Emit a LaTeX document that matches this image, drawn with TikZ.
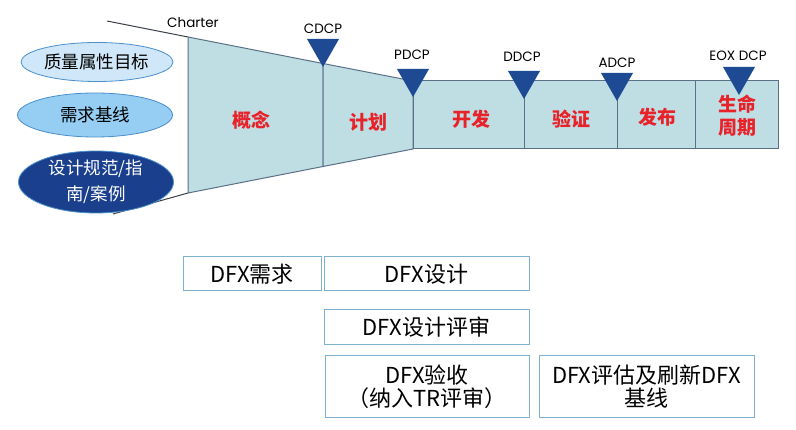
\documentclass[tikz,border=0pt]{standalone}
\usepackage{fontspec}
\setmainfont{Noto Sans CJK SC}
\newfontfamily\geo{Poppins}
\usetikzlibrary{shapes.geometric}
\definecolor{phasefill}{HTML}{BFDEE4}
\definecolor{phaseedge}{HTML}{5B6F86}
\definecolor{navy}{HTML}{1D4A92}
\definecolor{ellone}{HTML}{CFE7F8}
\definecolor{elltwo}{HTML}{95CDF3}
\definecolor{ellthree}{HTML}{1A3F8C}
\definecolor{ellb}{HTML}{4A8FCC}
\definecolor{redtxt}{HTML}{E82229}
\definecolor{boxedge}{HTML}{7FB0CF}
\definecolor{outline}{HTML}{3A3F4A}
\begin{document}
\begin{tikzpicture}[x=1pt,y=-1pt,
 phase/.style={fill=phasefill,draw=phaseedge,line width=1pt},
 phasetxt/.style={text=redtxt,font=\fontsize{19}{23}\selectfont\bfseries,align=center},
 gate/.style={fill=navy,draw=none},
 gatelbl/.style={font=\geo\fontsize{13.5}{15}\selectfont,inner sep=0pt},
 goal/.style={ellipse,draw=ellb,line width=0.8pt,inner sep=0pt,font=\fontsize{17.5}{26}\selectfont,align=center},
 dfx/.style={draw=boxedge,line width=1pt,font=\fontsize{22}{23}\selectfont,align=center,inner sep=0pt}]
\useasboundingbox[fill=white] (0,0) rectangle (796,430);

% funnel outline lines
\coordinate (tl0) at (107,21);
\coordinate (bl0) at (113,214);
\coordinate (t1) at (188,37);
\coordinate (b1) at (188,193);
\coordinate (t2) at (323,63.5);
\coordinate (b2) at (323,166.5);
\coordinate (t3) at (413,81);
\coordinate (b3) at (413,149);
\draw[outline,line width=1pt] (tl0) -- (t1);
\draw[outline,line width=1pt] (bl0) -- (b1);

% phases
\draw[phase] (t1) -- (t2) -- (b2) -- (b1) -- cycle;
\draw[phase] (t2) -- (t3) -- (b3) -- (b2) -- cycle;
\draw[phase] (413,81) rectangle (524,149);
\draw[phase] (524,81) rectangle (617,149);
\draw[phase] (617,81) rectangle (695,149);
\draw[phase] (695,81) rectangle (778,149);

% gates (triangles)
\foreach \x/\y in {323/39, 413/69, 524/71, 617/73, 739/67}{
  \fill[gate] (\x-16,\y) -- (\x+16,\y) -- (\x,\y+28) -- cycle;
}

% gate labels
\node[gatelbl] (charter) at (193,23) {Charter};
\node[gatelbl] (cdcp) at (323,29) {CDCP};
\node[gatelbl] (pdcp) at (412,55) {PDCP};
\node[gatelbl] (ddcp) at (522,57) {DDCP};
\node[gatelbl] (adcp) at (617,63) {ADCP};
\node[gatelbl] (eox) at (738,56) {EOX DCP};

% phase names
\node[phasetxt] (p1) at (251,120) {概念};
\node[phasetxt] (p2) at (368,122) {计划};
\node[phasetxt] (p3) at (471,119) {开发};
\node[phasetxt] (p4) at (571,119) {验证};
\node[phasetxt] (p5) at (657,117) {发布};
\node[phasetxt] (p6) at (737,116) {生命\\周期};

% ellipses
\node[goal,fill=ellone,minimum width=152pt,minimum height=39pt] (e1) at (97,62) {质量属性目标};
\node[goal,fill=elltwo,minimum width=155pt,minimum height=44pt] (e2) at (95,115) {需求基线};
\node[goal,fill=ellthree,text=white,minimum width=155pt,minimum height=47pt] (e3) at (96,182) {设计规范/指\\南/案例};

% DFX boxes
\node[dfx,minimum width=138pt,minimum height=34pt] (req) at (252,274) {DFX需求};
\node[dfx,minimum width=205pt,minimum height=34pt] (des) at (426.5,274) {DFX设计};
\node[dfx,minimum width=205pt,minimum height=35pt] (rev) at (426.5,327.5) {DFX设计评审};
\node[dfx,minimum width=204pt,minimum height=62pt] (acc) at (427,387) {DFX验收\\（纳入TR评审）};
\node[dfx,minimum width=215pt,minimum height=62pt] (eva) at (646.5,387) {DFX评估及刷新DFX\\基线};
\end{tikzpicture}
\end{document}
